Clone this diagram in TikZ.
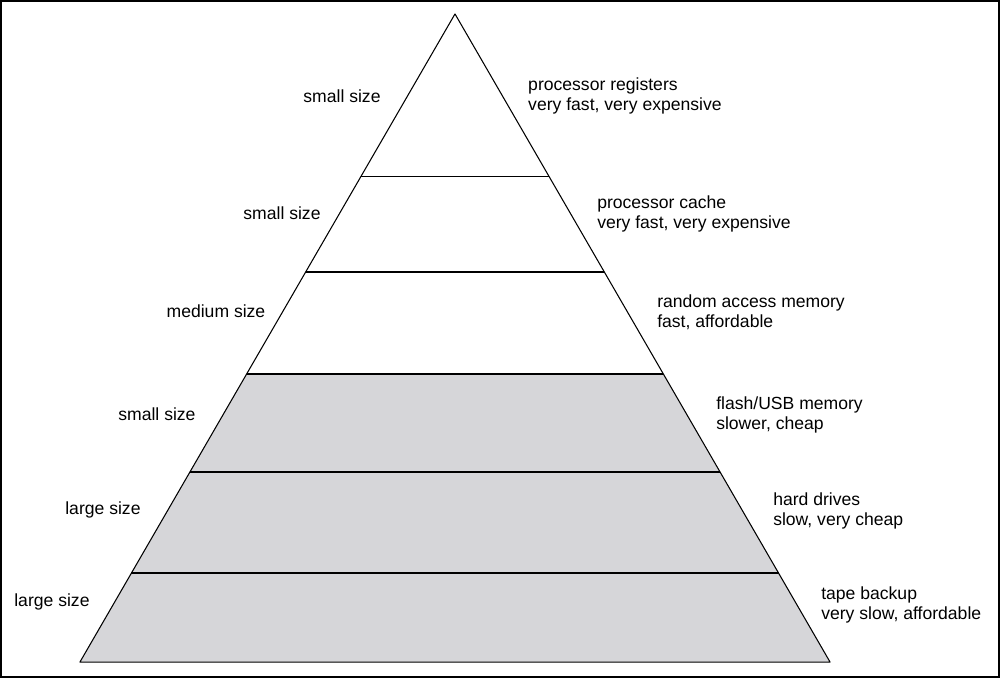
\documentclass[tikz,border=0pt]{standalone}
\usepackage{fontspec}
\setmainfont{Liberation Sans}
\usepackage{xcolor}
\begin{document}
\begin{tikzpicture}[x = 0.03cm, y = -0.03cm]

  % STYLES
  \definecolor{levelcolor}{rgb}{ 0.84,0.84,0.85 }
  \tikzstyle{edgestyle} = [draw=black, line width=0.9pt, line join=round]
  \tikzstyle{sizestyle} = [font=\fontsize{15}{17}\selectfont, inner sep=0pt]
  \tikzstyle{infostyle} = [font=\fontsize{15}{17}\selectfont, inner sep=0pt, anchor=west, align=left]

  % FRAME
  \draw[line width=1.6pt] (1,1) rectangle (999,677);

  % DEF POINTS
  \coordinate (apex) at (455, 14);
  \coordinate (bl) at (80, 662);
  \coordinate (br) at (830, 662);
  \foreach \n/\y in {a/177, b/272, c/374, d/472, e/573} {
    \coordinate (l_\n) at ({455-(\y-14)*0.5787}, \y);
    \coordinate (r_\n) at ({455+(\y-14)*0.5787}, \y);
  }

  % FACES
  \fill[levelcolor] (l_c) -- (r_c) -- (br) -- (bl) -- cycle;
  \draw[edgestyle] (apex) -- (br) -- (bl) -- cycle;
  \foreach \n in {a, b, c, d, e}
    \draw[edgestyle] (l_\n) -- (r_\n);

  % SIZE LABELS
  \node[sizestyle] (s1) at (342, 96) {small size};
  \node[sizestyle] (s2) at (282, 213) {small size};
  \node[sizestyle] (s3) at (216, 311) {medium size};
  \node[sizestyle] (s4) at (157, 414) {small size};
  \node[sizestyle] (s5) at (103, 510) {large size};
  \node[sizestyle] (s6) at (52, 602) {large size};

  % INFO LABELS
  \node[infostyle] (m1) at (528, 96) {processor registers\\very fast, very expensive};
  \node[infostyle] (m2) at (597, 214) {processor cache\\very fast, very expensive};
  \node[infostyle] (m3) at (657, 312) {random access memory\\fast, affordable};
  \node[infostyle] (m4) at (716, 415) {flash/USB memory\\slower, cheap};
  \node[infostyle] (m5) at (773, 511) {hard drives\\slow, very cheap};
  \node[infostyle] (m6) at (821, 605) {tape backup\\very slow, affordable};

\end{tikzpicture}
\end{document}
